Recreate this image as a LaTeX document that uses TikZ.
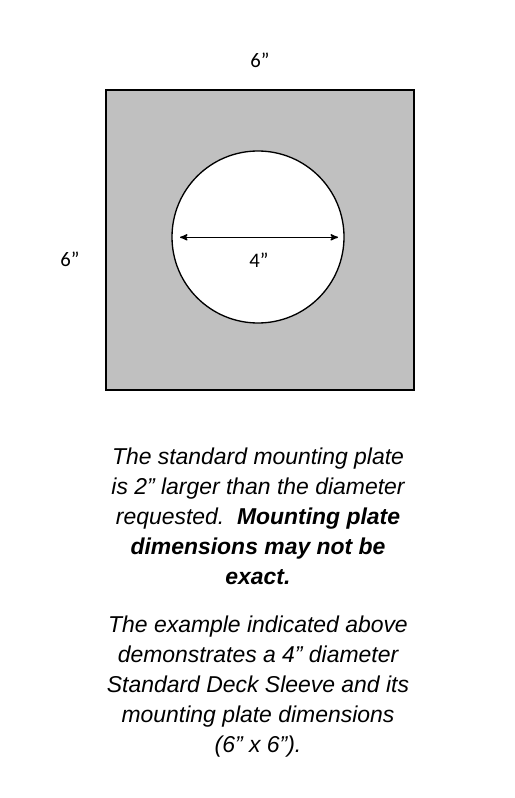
\documentclass[tikz,border=0pt]{standalone}
\usepackage{fontspec}
\setmainfont{Liberation Sans}
\newfontfamily\labelfont{Carlito}
\usetikzlibrary{arrows}

\definecolor{plategray}{RGB}{192,192,192}

\begin{document}
\begin{tikzpicture}[x=0.75pt,y=-0.75pt,>=stealth',
                    dim/.style={font=\labelfont\fontsize{15.5}{18}\selectfont},
                    note/.style={align=center,inner sep=0pt,anchor=north,
                                 font=\itshape\fontsize{17.2}{22.5}\selectfont}]

	\useasboundingbox (0,0) rectangle (514,798);

  	\node[draw,line width=1.5pt,fill=plategray,minimum width=231pt,
	      minimum height=225pt,inner sep=0pt] (plate) at (260,240.3) {};
	\node[circle,draw,line width=1pt,fill=white,minimum size=129pt,
	      inner sep=0pt] (hole) at (258,237) {};

	\coordinate (L) at (180,237.3);
	\coordinate (R) at (338,237.3);
	\draw[<->,line width=1pt] (L) -- (R);

	\node[dim] (top)  at (260,60)  {6”};
	\node[dim] (side) at (70,259)  {6”};
	\node[dim] (diam) at (259,260) {4”};

	\node[note] (first) at (258,448) {The standard mounting plate\\
		is 2” larger than the diameter\\
		requested.\ \ \textbf{Mounting plate}\\
		\textbf{dimensions may not be}\\
		\textbf{exact.}};
	\node[note] (second) at (258,616) {The example indicated above\\
		demonstrates a 4” diameter\\
		Standard Deck Sleeve and its\\
		mounting plate dimensions\\
		(6” x 6”).};

\end{tikzpicture}
\end{document}
